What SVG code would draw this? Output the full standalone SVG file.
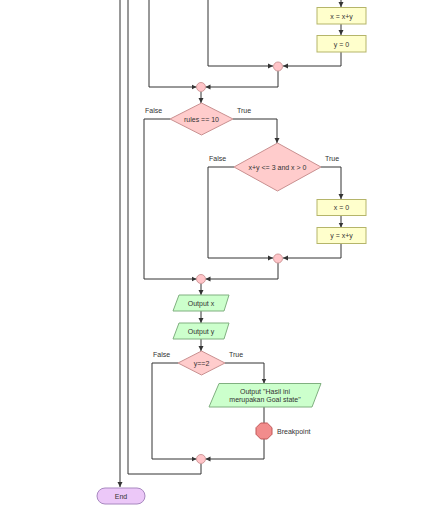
<svg xmlns="http://www.w3.org/2000/svg" width="422" height="514" viewBox="0 0 422 514">
<style>
text{font-family:"Liberation Sans",Arial,sans-serif;font-size:7px;fill:#333;}
.c{text-anchor:middle;}
.proc{fill:#ffffcc;stroke:#b5b56a;stroke-width:1;}
.dec{fill:#ffcccc;stroke:#c99090;stroke-width:1;}
.io{fill:#ccffcc;stroke:#80b080;stroke-width:1;}
.join{fill:#ffc4c8;stroke:#cf9a9a;stroke-width:1;}
.end{fill:#ecc8f8;stroke:#a888c0;stroke-width:1;}
.bp{fill:#f28c8c;stroke:#c05858;stroke-width:1;}
.ln{fill:none;stroke:#333;stroke-width:1;}
</style>
<defs>
<marker id="a" markerWidth="6" markerHeight="6" refX="5" refY="3" orient="auto" markerUnits="userSpaceOnUse">
<path d="M0,0.5 L5,3 L0,5.5 Z" fill="#333"/>
</marker>
</defs>
<rect width="422" height="514" fill="#fff"/>
<g id="connectors">
<path class="ln" d="M120,0 V487" marker-end="url(#a)"/>
<path class="ln" d="M201,464 V474 H128 V0"/>
<path class="ln" d="M341,0 V7" marker-end="url(#a)"/>
<path class="ln" d="M341,24 V35" marker-end="url(#a)"/>
<path class="ln" d="M208,0 V66 H273" marker-end="url(#a)"/>
<path class="ln" d="M341,52 V66 H283" marker-end="url(#a)"/>
<path class="ln" d="M149,0 V87 H196.5" marker-end="url(#a)"/>
<path class="ln" d="M278,71 V87 H205.5" marker-end="url(#a)"/>
<path class="ln" d="M201,91.5 V103" marker-end="url(#a)"/>
<path class="ln" d="M170,119 H144 V279 H196.5" marker-end="url(#a)"/>
<path class="ln" d="M233,119 H277 V143" marker-end="url(#a)"/>
<path class="ln" d="M234,167 H208 V258 H273" marker-end="url(#a)"/>
<path class="ln" d="M321,167 H341 V199" marker-end="url(#a)"/>
<path class="ln" d="M341,216 V227.5" marker-end="url(#a)"/>
<path class="ln" d="M341,243 V258 H283" marker-end="url(#a)"/>
<path class="ln" d="M278,263 V279 H205.5" marker-end="url(#a)"/>
<path class="ln" d="M201,283.5 V295" marker-end="url(#a)"/>
<path class="ln" d="M201,311 V323" marker-end="url(#a)"/>
<path class="ln" d="M201,339 V351" marker-end="url(#a)"/>
<path class="ln" d="M178,363 H152 V459 H196.5" marker-end="url(#a)"/>
<path class="ln" d="M225,363 H264 V383.5" marker-end="url(#a)"/>
<path class="ln" d="M264,407 V423"/>
<path class="ln" d="M264,439 V459 H205.5" marker-end="url(#a)"/>
</g>
<g id="n_xxy"><rect class="proc" x="317" y="7.5" width="49" height="16.5"/><text class="c" x="341.5" y="18.5">x = x+y</text></g>
<g id="n_y0"><rect class="proc" x="317" y="35.5" width="49" height="16.5"/><text class="c" x="341.5" y="46.5">y = 0</text></g>
<g id="j1"><circle class="join" cx="278" cy="66.5" r="4.5"/></g>
<g id="j2"><circle class="join" cx="201" cy="87" r="4.5"/></g>
<g id="d_rules"><polygon class="dec" points="201.5,103 233,119 201.5,135 170,119"/><text class="c" x="201.5" y="121.5">rules == 10</text>
<text x="145" y="113">False</text><text x="237" y="113">True</text></g>
<g id="d_xy"><polygon class="dec" points="277.5,143 321,167 277.5,191 234,167"/><text class="c" x="277.5" y="169.5">x+y &lt;= 3 and x &gt; 0</text>
<text x="209" y="161">False</text><text x="325" y="161">True</text></g>
<g id="n_x0"><rect class="proc" x="317" y="199.5" width="49" height="16"/><text class="c" x="341.5" y="210">x = 0</text></g>
<g id="n_yxy"><rect class="proc" x="317" y="227.5" width="49" height="16"/><text class="c" x="341.5" y="238">y = x+y</text></g>
<g id="j3"><circle class="join" cx="278" cy="258.5" r="4.5"/></g>
<g id="j4"><circle class="join" cx="201" cy="279" r="4.5"/></g>
<g id="o_x"><polygon class="io" points="179,295 229,295 224,311 173,311"/><text class="c" x="201" y="305.5">Output x</text></g>
<g id="o_y"><polygon class="io" points="179,323 229,323 224,339 173,339"/><text class="c" x="201" y="333.5">Output y</text></g>
<g id="d_y2"><polygon class="dec" points="201.5,351 225,363 201.5,375 178,363"/><text class="c" x="201.5" y="365.5">y==2</text>
<text x="153" y="357">False</text><text x="229" y="357">True</text></g>
<g id="o_goal"><polygon class="io" points="219,383.5 321,383.5 312,407 209,407"/><text class="c" x="265" y="393.5">Output "Hasil ini</text><text class="c" x="265" y="401.5">merupakan Goal state"</text></g>
<g id="bp"><polygon class="bp" points="260.7,423 267.3,423 272,427.7 272,434.3 267.3,439 260.7,439 256,434.3 256,427.7"/><text x="277" y="433.5">Breakpoint</text></g>
<g id="j5"><circle class="join" cx="201" cy="459" r="4.5"/></g>
<g id="n_end"><rect class="end" x="97" y="488" width="48" height="16" rx="8" ry="8"/><text class="c" x="121" y="498.5">End</text></g>
</svg>
